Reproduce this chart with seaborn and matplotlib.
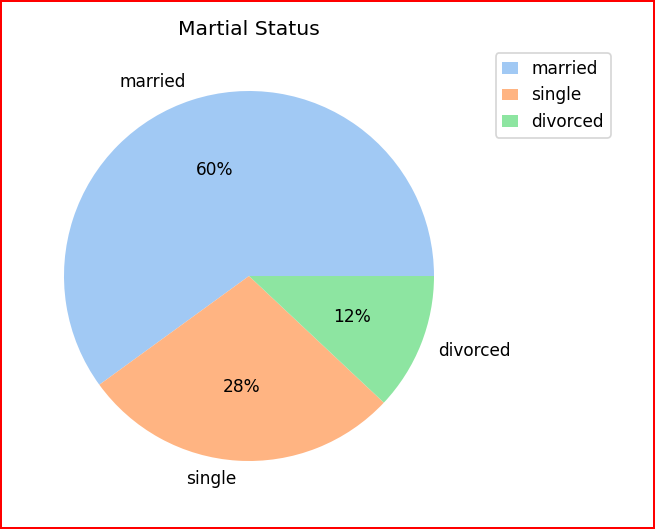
import matplotlib.pyplot as plt
import seaborn as sns
from matplotlib.patches import Rectangle

statuses = ["married", "single", "divorced"]
shares = [60, 28, 12]

DPI = 122
W, H = 655, 529

colors = sns.color_palette("pastel")[: len(statuses)]

fig = plt.figure(figsize=(W / DPI, H / DPI), dpi=DPI)
# pie radius ~185 px, axes limits are +-1.25 -> 462.5 px square
ax = fig.add_axes([17.75 / W, 21.75 / H, 462.5 / W, 462.5 / H])
ax.pie(shares, labels=statuses, colors=colors, autopct="%.0f%%")
ax.set_aspect("equal")
ax.set_title("Martial Status")
ax.legend(loc="upper right", bbox_to_anchor=(1.3, 1), handlelength=0.9)

# red frame around the screenshot
fig.patches.append(
    Rectangle((1 / W, 1 / H), (W - 2) / W, (H - 2) / H, transform=fig.transFigure,
              fill=False, edgecolor="red", linewidth=2 * 72 / DPI)
)

fig.savefig("out.png", dpi=DPI)
